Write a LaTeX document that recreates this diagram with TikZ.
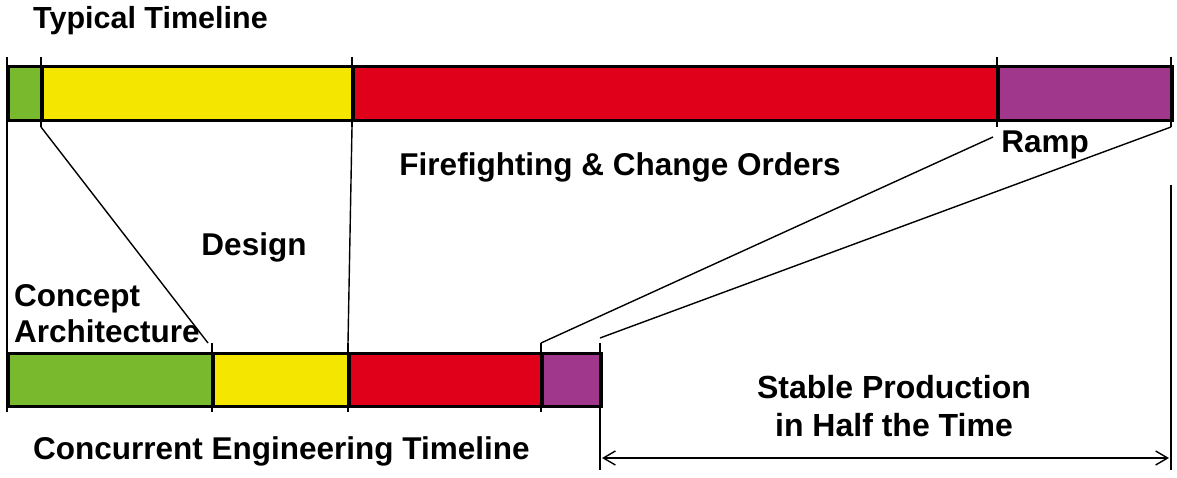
\documentclass[tikz,border=0pt]{standalone}
\usepackage{fontspec}
\setmainfont{Liberation Sans}
\usetikzlibrary{arrows.meta}
\definecolor{cgreen}{RGB}{120,185,45}
\definecolor{cyellow}{RGB}{245,230,0}
\definecolor{cred}{RGB}{225,0,25}
\definecolor{cpurple}{RGB}{160,55,140}
\begin{document}
\begin{tikzpicture}[x=1pt,y=-1pt,
  seg/.style={draw=black,line width=3pt,inner sep=0pt,anchor=north west,minimum height=#1},
  tick/.style={line width=1.6pt},
  link/.style={line width=1.4pt},
  lbl/.style={font=\fontsize{31.5}{36}\selectfont\bfseries,inner sep=0pt}]
\useasboundingbox (0,0) rectangle (1177,478);
% top bar
\node[seg=54pt,fill=cgreen,minimum width=34pt] (g1) at (7,65) {};
\node[seg=54pt,fill=cyellow,minimum width=311pt] (y1) at (41,65) {};
\node[seg=54pt,fill=cred,minimum width=645pt] (r1) at (352,65) {};
\node[seg=54pt,fill=cpurple,minimum width=174pt] (p1) at (997,65) {};
% bottom bar
\node[seg=53pt,fill=cgreen,minimum width=205pt] (g2) at (7,352) {};
\node[seg=53pt,fill=cyellow,minimum width=136pt] (y2) at (212,352) {};
\node[seg=53pt,fill=cred,minimum width=193pt] (r2) at (348,352) {};
\node[seg=53pt,fill=cpurple,minimum width=59pt] (p2) at (541,352) {};
% ticks top
\foreach \n/\x in {a/7,b/41,c/352,d/997,e/1171}{
  \coordinate (t\n) at (\x,57);
  \coordinate (u\n) at (\x,127);
  \draw[tick] (t\n) -- (u\n);
}
% ticks bottom
\foreach \n/\x in {a/7,b/212,c/348,d/541,e/600}{
  \coordinate (s\n) at (\x,343);
  \coordinate (v\n) at (\x,412);
  \draw[tick] (s\n) -- (v\n);
}
% connectors
\coordinate (bdiag) at (208,343);
\coordinate (rampstart) at (993,137);
\coordinate (pend) at (600,338);
\draw[link] (ua) -- (sa);
\draw[link] (ub) -- (bdiag);
\draw[link] (uc) -- (sc);
\draw[link] (rampstart) -- (sd);
\draw[link] (ue) -- (pend);
\coordinate (rt) at (1171,185);
\coordinate (rb) at (1171,470);
\coordinate (lb) at (600,470);
\draw[tick] (rt) -- (rb);
\draw[tick] (ve) -- (lb);
\coordinate (al) at (602,458);
\coordinate (ar) at (1169,458);
\draw[link,{Straight Barb[length=12pt,width=14pt,line width=1.4pt]}-{Straight Barb[length=12pt,width=14pt,line width=1.4pt]}] (al) -- (ar);
% labels
\node[lbl,anchor=west,font=\fontsize{30.5}{36}\selectfont\bfseries] (typ) at (33,21) {Typical Timeline};
\node[lbl] (fire) at (620,167) {Firefighting \& Change Orders};
\node[lbl] (ramp) at (1045,145) {Ramp};
\node[lbl] (des) at (254,247) {Design};
\node[lbl,anchor=west,align=left] (con) at (14,314) {Concept\\Architecture};
\node[lbl,anchor=west] (cet) at (33,451) {Concurrent Engineering Timeline};
\node[lbl,align=center,font=\fontsize{32}{38}\selectfont\bfseries] (stab) at (894,406) {Stable Production\\in Half the Time};
\end{tikzpicture}
\end{document}
